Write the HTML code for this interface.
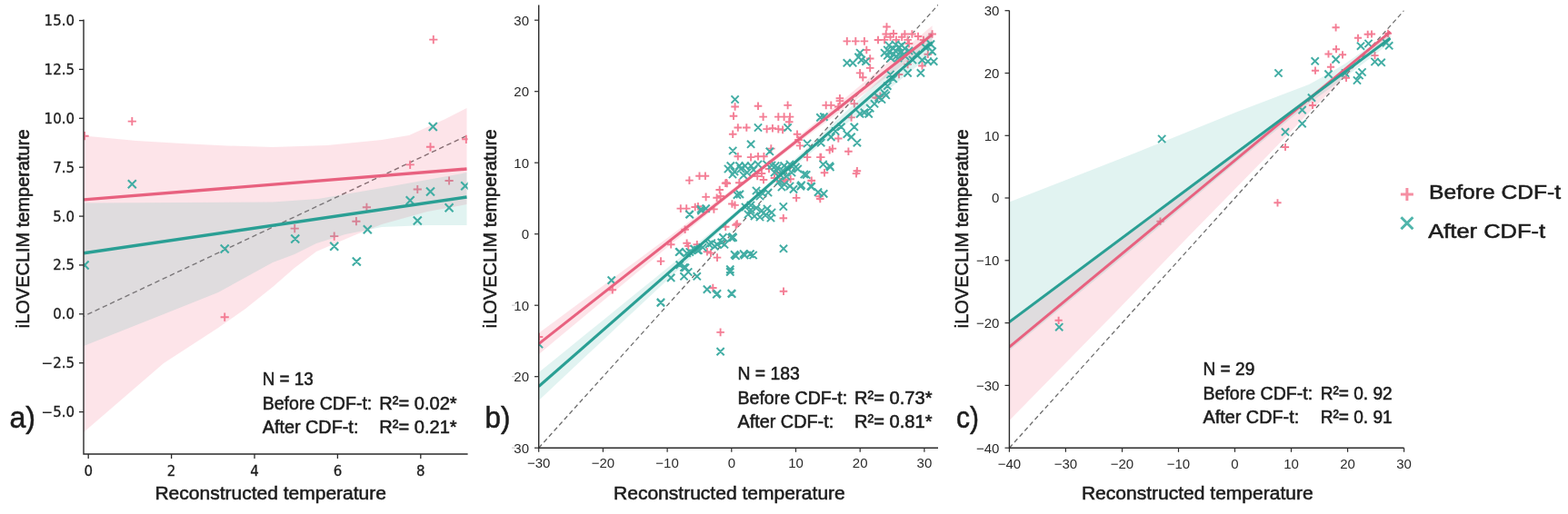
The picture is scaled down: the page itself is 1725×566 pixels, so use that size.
<!DOCTYPE html>
<html><head><meta charset="utf-8"><title>Scatter plots</title>
<style>html,body{margin:0;padding:0;background:#fff;width:1725px;height:566px;overflow:hidden}svg{display:block}</style>
</head><body>
<svg width="1725" height="566" viewBox="0 0 1725 566" font-family="'Liberation Sans', Arial, sans-serif">
<rect width="1725" height="566" fill="#ffffff"/>
<defs>
<clipPath id="ca"><rect x="92" y="11.5" width="422.6" height="488.5"/></clipPath>
<clipPath id="cb"><rect x="592.7" y="-4.6" width="439.3" height="497.8"/></clipPath>
<clipPath id="cc"><rect x="1110.4" y="1.5" width="434.2" height="491.7"/></clipPath>
</defs>
<g clip-path="url(#ca)">
<line x1="88.1" y1="350.1" x2="522.2" y2="145.4" stroke="#6e6e6e" stroke-width="1.4" stroke-dasharray="5.5 3.6"/>
<path d="M88.5 149.7H97.7M93.1 145.1V154.3M140.7 133.6H149.9M145.3 129V138.2M242.6 349.2H251.8M247.2 344.6V353.8M319.6 251.6H328.8M324.2 247V256.2M363.1 260.1H372.3M367.7 255.5V264.7M387.3 243.7H396.5M391.9 239.1V248.3M398.8 228.3H408M403.4 223.7V232.9M446.6 181.4H455.8M451.2 176.8V186M454.7 208.5H463.9M459.3 203.9V213.1M468.9 161.8H478.1M473.5 157.2V166.4M472.2 43.6H481.4M476.8 39V48.2M489.5 199H498.7M494.1 194.4V203.6M508.2 153.3H517.4M512.8 148.7V157.9" stroke="#f47e95" stroke-width="1.9" fill="none" />
<polygon points="92,149.5 150,155 200,158 250,160.5 300,162 360,160 420,154 450,149 470,140 490,131 513.5,119 513.5,225 470,233 420,247 390,259 348,277 324,295 300,316 270,340 240,361 180,400 92,476" fill="#f77189" fill-opacity="0.19" clip-path="url(#ca)"/>
<path d="M88.6 287.4L97.6 296.4M88.6 296.4L97.6 287.4M140.8 198.3L149.8 207.3M140.8 207.3L149.8 198.3M242.7 269.6L251.7 278.6M242.7 278.6L251.7 269.6M320.2 258.6L329.2 267.6M320.2 267.6L329.2 258.6M363.2 266.7L372.2 275.7M363.2 275.7L372.2 266.7M387.8 283.5L396.8 292.5M387.8 292.5L396.8 283.5M399.8 248.2L408.8 257.2M399.8 257.2L408.8 248.2M446.7 216.3L455.7 225.3M446.7 225.3L455.7 216.3M454.8 238.4L463.8 247.4M454.8 247.4L463.8 238.4M469 206.6L478 215.6M469 215.6L478 206.6M471.8 135.1L480.8 144.1M471.8 144.1L480.8 135.1M489.6 224.2L498.6 233.2M489.6 233.2L498.6 224.2M507.2 200.2L516.2 209.2M507.2 209.2L516.2 200.2" stroke="#42ada4" stroke-width="2.1" fill="none" />
<polygon points="92,223.5 300,222.5 350,219 420,207 470,198 513.5,190 513.5,248 470,248 420,250 380,258 348,268 324,280 300,289 240,322 180,346 92,381" fill="#36ada4" fill-opacity="0.15" clip-path="url(#ca)"/>
<line x1="92" y1="219.9" x2="513.5" y2="186" stroke="#e8617f" stroke-width="3.4" />
<line x1="92" y1="278.8" x2="513.5" y2="217" stroke="#2a9f94" stroke-width="3.4" />
</g>
<g clip-path="url(#cb)">
<line x1="592.7" y1="493.2" x2="1034.6" y2="2.6" stroke="#6e6e6e" stroke-width="1.3" stroke-dasharray="5 3.4"/>
<path d="M588.7 371H597.3M593 366.7V375.3M669.5 319.2H678.1M673.8 314.9V323.5M722.7 287.6H731.3M727 283.3V291.9M733.9 269.3H742.5M738.2 265V273.6M751.3 267.7H759.9M755.6 263.4V272M752.9 270.9H761.5M757.2 266.6V275.2M762.5 269.3H771.1M766.8 265V273.6M773.6 277.3H782.2M777.9 273V281.6M784.7 283.6H793.3M789 279.3V287.9M780 317H788.6M784.3 312.7V321.3M788.3 365.9H796.9M792.6 361.6V370.2M857.7 320.7H866.3M862 316.4V325M754.1 198.6H762.7M758.4 194.3V202.9M765.2 193.8H773.8M769.5 189.5V198.1M771.6 193.8H780.2M775.9 189.5V198.1M772.3 216.9H780.9M776.6 212.6V221.2M787.4 209H796M791.7 204.7V213.3M784.3 217.7H792.9M788.6 213.4V222M793.8 201.8H802.4M798.1 197.5V206.1M744.5 229.6H753.1M748.8 225.3V233.9M750.9 229.6H759.5M755.2 225.3V233.9M760.4 228H769M764.7 223.7V232.3M763.6 227.2H772.2M767.9 222.9V231.5M781.1 230.4H789.7M785.4 226.1V234.7M749.3 252.7H757.9M753.6 248.4V257M794.7 201.2H803.3M799 196.9V205.5M788.4 216H797M792.7 211.7V220.3M801.1 224.5H809.7M805.4 220.2V228.8M805.3 247.8H813.9M809.6 243.5V252.1M777.7 278.6H786.3M782 274.3V282.9M804.3 117.5H812.9M808.6 113.2V121.8M829.7 116.7H838.3M834 112.4V121M862.3 115.9H870.9M866.6 111.6V120.2M802.7 127.8H811.3M807 123.5V132.1M835.3 128.6H843.9M839.6 124.3V132.9M852 128.6H860.6M856.3 124.3V132.9M858.3 128.6H866.9M862.6 124.3V132.9M864.7 128.6H873.3M869 124.3V132.9M863.9 134.2H872.5M868.2 129.9V138.5M807.5 140.5H816.1M811.8 136.2V144.8M817 140.5H825.6M821.3 136.2V144.8M839.3 142.1H847.9M843.6 137.8V146.4M845.6 141.3H854.2M849.9 137V145.6M852 142.1H860.6M856.3 137.8V146.4M856.8 142.9H865.4M861.1 138.6V147.2M801.9 147.7H810.5M806.2 143.4V152M872.7 147.7H881.3M877 143.4V152M874.2 154H882.8M878.5 149.7V158.3M875.8 160.4H884.4M880.1 156.1V164.7M844 163.6H852.6M848.3 159.3V167.9M807.5 172.3H816.1M811.8 168V176.6M821.8 173.1H830.4M826.1 168.8V177.4M829.7 172.3H838.3M834 168V176.6M836.1 172.3H844.7M840.4 168V176.6M883.8 173.1H892.4M888.1 168.8V177.4M898.1 173.1H906.7M902.4 168.8V177.4M904.4 115.9H913M908.7 111.6V120.2M910 115.9H918.6M914.3 111.6V120.2M919.6 111.1H928.2M923.9 106.8V115.4M918 117.5H926.6M922.3 113.2V121.8M935.5 114.3H944.1M939.8 110V118.6M960.9 108H969.5M965.2 103.7V112.3M932.3 129.4H940.9M936.6 125.1V133.7M918 152.5H926.6M922.3 148.2V156.8M908.4 165.2H917M912.7 160.9V169.5M911.6 163.6H920.2M915.9 159.3V167.9M929.1 166.8H937.7M933.4 162.5V171.1M898.9 173.1H907.5M903.2 168.8V177.4M938.6 188.2H947.2M942.9 183.9V192.5M828.9 194H837.5M833.2 189.7V198.3M833.7 191H842.3M838 186.7V195.3M795.5 202H804.1M799.8 197.7V206.3M809 201.2H817.6M813.3 196.9V205.5M804.2 225.9H812.8M808.5 221.6V230.2M888.5 198.8H897.1M892.8 194.5V203.1M871.8 217.9H880.4M876.1 213.6V222.2M897.2 216.3H905.8M901.5 212V220.6M857.5 240.2H866.1M861.8 235.9V244.5M806.6 246.5H815.2M810.9 242.2V250.8M793.9 249.7H802.5M798.2 245.4V254M865.4 197.3H874M869.7 193V201.6M857.7 199H866.3M862 194.7V203.3M902.7 190.3H911.3M907 186V194.6M937.7 191.1H946.3M942 186.8V195.4M888.4 199H897M892.7 194.7V203.3M898 219H906.6M902.3 214.7V223.3M927.5 45.4H936.1M931.8 41.1V49.7M937 45.4H945.6M941.3 41.1V49.7M946.6 45.4H955.2M950.9 41.1V49.7M949 55H957.6M953.3 50.7V59.3M952.9 64.5H961.5M957.2 60.2V68.8M952.9 74.9H961.5M957.2 70.6V79.2M941.8 80.4H950.4M946.1 76.1V84.7M945 85.2H953.6M949.3 80.9V89.5M971.2 29.5H979.8M975.5 25.2V33.8M970.4 37.5H979M974.7 33.2V41.8M968.8 43.9H977.4M973.1 39.6V48.2M975.2 40.7H983.8M979.5 36.4V45M981.6 43.9H990.2M985.9 39.6V48.2M987.9 40.7H996.5M992.2 36.4V45M991.1 37.5H999.7M995.4 33.2V41.8M999.1 37.5H1007.7M1003.4 33.2V41.8M994.3 43.9H1002.9M998.6 39.6V48.2M984.7 82H993.3M989 77.7V86.3M994.3 70.9H1002.9M998.6 66.6V75.2M1010.2 72.5H1018.8M1014.5 68.2V76.8M1016.5 59.8H1025.1M1020.8 55.5V64.1M1021.3 37.5H1029.9M1025.6 33.2V41.8M919.6 108.2H928.2M923.9 103.9V112.5M959.3 107.5H967.9M963.6 103.2V111.8M964.1 105.9H972.7M968.4 101.6V110.2M1005.7 40H1014.3M1010 35.7V44.3M1011.7 44H1020.3M1016 39.7V48.3M978.7 37H987.3M983 32.7V41.3M961.7 44H970.3M966 39.7V48.3M995.7 48H1004.3M1000 43.7V52.3M847.7 196H856.3M852 191.7V200.3M853.7 200H862.3M858 195.7V204.3M859.7 198H868.3M864 193.7V202.3M850.7 190H859.3M855 185.7V194.3M841.7 186H850.3M846 181.7V190.3M835.7 198H844.3M840 193.7V202.3" stroke="#f47e95" stroke-width="1.9" fill="none" />
<polygon points="592.7,366.8 610.7,353.5 628.8,340.1 646.8,326.8 664.9,313.4 682.9,300.1 700.9,286.7 719,273.3 737,259.9 755,246.4 773.1,232.9 791.1,219.3 809.1,205.6 827.2,191.6 845.2,177.3 863.3,162.7 881.3,148 899.3,133.1 917.4,118.2 935.4,103.3 953.4,88.3 971.5,73.3 989.5,58.3 1007.6,43.3 1025.6,28.3 1025.6,47.7 1007.6,61.1 989.5,74.4 971.5,87.8 953.4,101.2 935.4,114.6 917.4,128 899.3,141.5 881.3,155 863.3,168.7 845.2,182.5 827.2,196.6 809.1,210.9 791.1,225.6 773.1,240.3 755,255.2 737,270.1 719,285.1 700.9,300.1 682.9,315.1 664.9,330.1 646.8,345.1 628.8,360.1 610.7,375.1 592.7,390.2" fill="#f77189" fill-opacity="0.19" clip-path="url(#cb)"/>
<path d="M588.9 374.9L597.1 383.1M588.9 383.1L597.1 374.9M668.6 304.5L676.8 312.7M668.6 312.7L676.8 304.5M722.8 329.3L731 337.5M722.8 337.5L731 329.3M788.5 383L796.7 391.2M788.5 391.2L796.7 383M784.2 320.1L792.4 328.3M784.2 328.3L792.4 320.1M801.2 319.4L809.4 327.6M801.2 327.6L809.4 319.4M743.6 273.2L751.8 281.4M743.6 281.4L751.8 273.2M751.5 274.7L759.7 282.9M751.5 282.9L759.7 274.7M759.5 270L767.7 278.2M759.5 278.2L767.7 270M764.3 271.6L772.5 279.8M764.3 279.8L772.5 271.6M769 268.4L777.2 276.6M769 276.6L777.2 268.4M778.6 263.6L786.8 271.8M778.6 271.8L786.8 263.6M784.9 265.2L793.1 273.4M784.9 273.4L793.1 265.2M791.3 257.3L799.5 265.5M791.3 265.5L799.5 257.3M792.9 265.2L801.1 273.4M792.9 273.4L801.1 265.2M800.9 257.3L809.1 265.5M800.9 265.5L809.1 257.3M804 276.3L812.2 284.5M804 284.5L812.2 276.3M743.6 287.5L751.8 295.7M743.6 295.7L751.8 287.5M749.9 290.6L758.1 298.8M749.9 298.8L758.1 290.6M753.1 295.4L761.3 303.6M753.1 303.6L761.3 295.4M748.4 300.2L756.6 308.4M748.4 308.4L756.6 300.2M762.7 300.2L770.9 308.4M762.7 308.4L770.9 300.2M734.1 301.8L742.3 310M734.1 310L742.3 301.8M799.2 295.4L807.4 303.6M799.2 303.6L807.4 295.4M773.8 314.5L782 322.7M773.8 322.7L782 314.5M784.9 319.3L793.1 327.5M784.9 327.5L793.1 319.3M800.8 319.3L809 327.5M800.8 327.5L809 319.3M722.9 328.8L731.1 337M722.9 337L731.1 328.8M754.7 232.1L762.9 240.3M754.7 240.3L762.9 232.1M767.4 227.9L775.6 236.1M767.4 236.1L775.6 227.9M809.8 209.8L818 218M809.8 218L818 209.8M743 273.4L751.2 281.6M743 281.6L751.2 273.4M754.7 273.4L762.9 281.6M754.7 281.6L762.9 273.4M763.1 271.3L771.3 279.5M763.1 279.5L771.3 271.3M775.9 264.9L784.1 273.1M775.9 273.1L784.1 264.9M782.2 267.1L790.4 275.3M782.2 275.3L790.4 267.1M789.6 262.8L797.8 271M789.6 271L797.8 262.8M802.4 257.5L810.6 265.7M802.4 265.7L810.6 257.5M805.5 277.7L813.7 285.9M805.5 285.9L813.7 277.7M814 275.5L822.2 283.7M814 283.7L822.2 275.5M821.4 275.5L829.6 283.7M821.4 283.7L829.6 275.5M748.3 290.4L756.5 298.6M748.3 298.6L756.5 290.4M799.2 292.5L807.4 300.7M799.2 300.7L807.4 292.5M754.3 231.9L762.5 240.1M754.3 240.1L762.5 231.9M767 226.3L775.2 234.5M767 234.5L775.2 226.3M772.5 225.5L780.7 233.7M772.5 233.7L780.7 225.5M800.7 257.8L808.9 266M800.7 266L808.9 257.8M805.4 277.7L813.6 285.9M805.4 285.9L813.6 277.7M815 276.9L823.2 285.1M815 285.1L823.2 276.9M824.5 276.9L832.7 285.1M824.5 285.1L832.7 276.9M799.1 295.2L807.3 303.4M799.1 303.4L807.3 295.2M800.7 319L808.9 327.2M800.7 327.2L808.9 319M857.9 269.7L866.1 277.9M857.9 277.9L866.1 269.7M804.5 105.4L812.7 113.6M804.5 113.6L812.7 105.4M822 154.7L830.2 162.9M822 162.9L830.2 154.7M802.1 161.9L810.3 170.1M802.1 170.1L810.3 161.9M829.9 136.4L838.1 144.6M829.9 144.6L838.1 136.4M862.5 136.4L870.7 144.6M862.5 144.6L870.7 136.4M898.3 125.3L906.5 133.5M898.3 133.5L906.5 125.3M884 153.9L892.2 162.1M884 162.1L892.2 153.9M842.7 162.7L850.9 170.9M842.7 170.9L850.9 162.7M799.7 178.5L807.9 186.7M799.7 186.7L807.9 178.5M809.3 178.5L817.5 186.7M809.3 186.7L817.5 178.5M815.6 178.5L823.8 186.7M815.6 186.7L823.8 178.5M822 178.5L830.2 186.7M822 186.7L830.2 178.5M829.9 176.9L838.1 185.1M829.9 185.1L838.1 176.9M839.5 176.9L847.7 185.1M839.5 185.1L847.7 176.9M849 178.5L857.2 186.7M849 186.7L857.2 178.5M858.5 178.5L866.7 186.7M858.5 186.7L866.7 178.5M864.9 176.9L873.1 185.1M864.9 185.1L873.1 176.9M871.3 179.9L879.5 188.1M871.3 188.1L879.5 179.9M901.5 176.9L909.7 185.1M901.5 185.1L909.7 176.9M970.6 100.7L978.8 108.9M970.6 108.9L978.8 100.7M965.9 105.4L974.1 113.6M965.9 113.6L974.1 105.4M957.9 110.2L966.1 118.4M957.9 118.4L966.1 110.2M953.1 115L961.3 123.2M953.1 123.2L961.3 115M946.8 119.8L955 128M946.8 128L955 119.8M942 121.3L950.2 129.5M942 129.5L950.2 121.3M951.6 121.3L959.8 129.5M951.6 129.5L959.8 121.3M935.7 135.7L943.9 143.9M935.7 143.9L943.9 135.7M921.3 135.7L929.5 143.9M921.3 143.9L929.5 135.7M915 140.4L923.2 148.6M915 148.6L923.2 140.4M927.7 143.6L935.9 151.8M927.7 151.8L935.9 143.6M932.5 146.8L940.7 155M932.5 155L940.7 146.8M938.8 153.1L947 161.3M938.8 161.3L947 153.1M910.2 146.8L918.4 155M910.2 155L918.4 146.8M899.1 153.1L907.3 161.3M899.1 161.3L907.3 153.1M902.3 124.5L910.5 132.7M902.3 132.7L910.5 124.5M908.6 178.6L916.8 186.8M908.6 186.8L916.8 178.6M796.9 181.9L805.1 190.1M796.9 190.1L805.1 181.9M803.9 184.9L812.1 193.1M803.9 193.1L812.1 184.9M810.9 181.9L819.1 190.1M810.9 190.1L819.1 181.9M817.9 185.9L826.1 194.1M817.9 194.1L826.1 185.9M824.9 182.9L833.1 191.1M824.9 191.1L833.1 182.9M801.9 187.9L810.1 196.1M801.9 196.1L810.1 187.9M813.9 188.9L822.1 197.1M813.9 197.1L822.1 188.9M844.9 177.9L853.1 186.1M844.9 186.1L853.1 177.9M850.9 180.9L859.1 189.1M850.9 189.1L859.1 180.9M856.9 183.9L865.1 192.1M856.9 192.1L865.1 183.9M862.9 181.9L871.1 190.1M862.9 190.1L871.1 181.9M866.9 185.9L875.1 194.1M866.9 194.1L875.1 185.9M847.9 185.9L856.1 194.1M847.9 194.1L856.1 185.9M853.9 187.9L862.1 196.1M853.9 196.1L862.1 187.9M860.9 189.9L869.1 198.1M860.9 198.1L869.1 189.9M852.9 195.9L861.1 204.1M852.9 204.1L861.1 195.9M858.9 198.9L867.1 207.1M858.9 207.1L867.1 198.9M864.9 200.9L873.1 209.1M864.9 209.1L873.1 200.9M855.9 201.9L864.1 210.1M855.9 210.1L864.1 201.9M827.9 205.9L836.1 214.1M827.9 214.1L836.1 205.9M834.9 208.9L843.1 217.1M834.9 217.1L843.1 208.9M840.9 207.9L849.1 216.1M840.9 216.1L849.1 207.9M831.9 211.9L840.1 220.1M831.9 220.1L840.1 211.9M815.9 223.9L824.1 232.1M815.9 232.1L824.1 223.9M821.9 226.9L830.1 235.1M821.9 235.1L830.1 226.9M827.9 224.9L836.1 233.1M827.9 233.1L836.1 224.9M833.9 227.9L842.1 236.1M833.9 236.1L842.1 227.9M839.9 225.9L848.1 234.1M839.9 234.1L848.1 225.9M844.9 229.9L853.1 238.1M844.9 238.1L853.1 229.9M818.9 231.9L827.1 240.1M818.9 240.1L827.1 231.9M825.9 233.9L834.1 242.1M825.9 242.1L834.1 233.9M831.9 234.9L840.1 243.1M831.9 243.1L840.1 234.9M837.9 232.9L846.1 241.1M837.9 241.1L846.1 232.9M843.9 235.9L852.1 244.1M843.9 244.1L852.1 235.9M821.9 221.9L830.1 230.1M821.9 230.1L830.1 221.9M873.6 181.9L881.8 190.1M873.6 190.1L881.8 181.9M883.1 188.4L891.3 196.6M883.1 196.6L891.3 188.4M876.7 201.1L884.9 209.3M876.7 209.3L884.9 201.1M868.9 204.3L877.1 212.5M868.9 212.5L877.1 204.3M887.9 201.1L896.1 209.3M887.9 209.3L896.1 201.1M895.9 207.5L904.1 215.7M895.9 215.7L904.1 207.5M857.7 223.4L865.9 231.6M857.7 231.6L865.9 223.4M806.8 210.6L815 218.8M806.8 218.8L815 210.6M802 256.8L810.2 265M802 265L810.2 256.8M909.3 179.9L917.5 188.1M909.3 188.1L917.5 179.9M880.7 187.9L888.9 196.1M880.7 196.1L888.9 187.9M877.5 199.7L885.7 207.9M877.5 207.9L885.7 199.7M888.6 201.3L896.8 209.5M888.6 209.5L896.8 201.3M902.1 209.3L910.3 217.5M902.1 217.5L910.3 209.3M927.7 65.2L935.9 73.4M927.7 73.4L935.9 65.2M934.1 65.2L942.3 73.4M934.1 73.4L942.3 65.2M940.4 58.8L948.6 67M940.4 67L948.6 58.8M943.6 62L951.8 70.2M943.6 70.2L951.8 62M948.4 63.6L956.6 71.8M948.4 71.8L956.6 63.6M942 54.1L950.2 62.3M942 62.3L950.2 54.1M972.2 50.9L980.4 59.1M972.2 59.1L980.4 50.9M978.6 49.3L986.8 57.5M978.6 57.5L986.8 49.3M984.9 47.7L993.1 55.9M984.9 55.9L993.1 47.7M991.3 49.3L999.5 57.5M991.3 57.5L999.5 49.3M972.2 57.2L980.4 65.4M972.2 65.4L980.4 57.2M978.6 55.7L986.8 63.9M978.6 63.9L986.8 55.7M986.5 54.1L994.7 62.3M986.5 62.3L994.7 54.1M969 54.1L977.2 62.3M969 62.3L977.2 54.1M1013.6 47.7L1021.8 55.9M1013.6 55.9L1021.8 47.7M1019.9 44.5L1028.1 52.7M1019.9 52.7L1028.1 44.5M1021.5 52.5L1029.7 60.7M1021.5 60.7L1029.7 52.5M1010.4 62L1018.6 70.2M1010.4 70.2L1018.6 62M1016.7 63.6L1024.9 71.8M1016.7 71.8L1024.9 63.6M1023.1 63.6L1031.3 71.8M1023.1 71.8L1031.3 63.6M994.5 76.3L1002.7 84.5M994.5 84.5L1002.7 76.3M1008.8 76.3L1017 84.5M1008.8 84.5L1017 76.3M975.4 77.9L983.6 86.1M975.4 86.1L983.6 77.9M978.6 82.7L986.8 90.9M978.6 90.9L986.8 82.7M972.2 90.6L980.4 98.8M972.2 98.8L980.4 90.6M969 98.6L977.2 106.8M969 106.8L977.2 98.6M962.7 103.4L970.9 111.6M962.7 111.6L970.9 103.4M981.9 57.9L990.1 66.1M981.9 66.1L990.1 57.9M989.9 55.9L998.1 64.1M989.9 64.1L998.1 55.9M995.9 51.9L1004.1 60.1M995.9 60.1L1004.1 51.9M1003.9 55.9L1012.1 64.1M1003.9 64.1L1012.1 55.9M999.9 61.9L1008.1 70.1M999.9 70.1L1008.1 61.9M973.9 45.9L982.1 54.1M973.9 54.1L982.1 45.9M980.9 44.9L989.1 53.1M980.9 53.1L989.1 44.9M987.9 45.9L996.1 54.1M987.9 54.1L996.1 45.9M973.9 52.9L982.1 61.1M973.9 61.1L982.1 52.9M980.9 51.9L989.1 60.1M980.9 60.1L989.1 51.9M987.9 52.9L996.1 61.1M987.9 61.1L996.1 52.9M975.9 59.9L984.1 68.1M975.9 68.1L984.1 59.9M983.9 59.9L992.1 68.1M983.9 68.1L992.1 59.9M991.9 57.9L1000.1 66.1M991.9 66.1L1000.1 57.9" stroke="#42ada4" stroke-width="2.0" fill="none" />
<polygon points="592.7,410.1 610.7,395.5 628.8,380.8 646.8,366.1 664.9,351.5 682.9,336.8 700.9,322.1 719,307.5 737,292.7 755,278 773.1,263.2 791.1,248.3 809.1,233.2 827.2,217.8 845.2,201.8 863.3,185.4 881.3,168.8 899.3,152 917.4,135.2 935.4,118.3 953.4,101.5 971.5,84.6 989.5,67.7 1007.6,50.8 1025.6,33.8 1025.6,59.4 1007.6,74 989.5,88.7 971.5,103.4 953.4,118 935.4,132.7 917.4,147.5 899.3,162.2 881.3,177 863.3,192 845.2,207.2 827.2,222.8 809.1,238.9 791.1,255.4 773.1,272 755,288.8 737,305.7 719,322.5 700.9,339.4 682.9,356.3 664.9,373.2 646.8,390.1 628.8,407 610.7,424 592.7,440.9" fill="#36ada4" fill-opacity="0.15" clip-path="url(#cb)"/>
<line x1="592.7" y1="378.5" x2="1025.6" y2="38" stroke="#e8617f" stroke-width="3.0" />
<line x1="592.7" y1="425.5" x2="1025.6" y2="46.6" stroke="#2a9f94" stroke-width="3.0" />
</g>
<g clip-path="url(#cc)">
<line x1="1110.4" y1="493.2" x2="1544.6" y2="11.7" stroke="#6e6e6e" stroke-width="1.3" stroke-dasharray="5 3.4"/>
<path d="M1465.5 30.3H1473.7M1469.6 26.2V34.4M1489.9 41.8H1498.1M1494 37.7V45.9M1500.6 37.8H1508.8M1504.7 33.7V41.9M1504.9 37.5H1513.1M1509 33.4V41.6M1522.9 36.8H1531.1M1527 32.7V40.9M1457.4 59.5H1465.6M1461.5 55.4V63.6M1465.9 54.2H1474.1M1470 50.1V58.3M1472.9 60.3H1481.1M1477 56.2V64.4M1442.9 77.7H1451.1M1447 73.6V81.8M1459.9 73.8H1468.1M1464 69.7V77.9M1508.4 61.1H1516.6M1512.5 57V65.2M1476.9 85.8H1485.1M1481 81.7V89.9M1439.9 116H1448.1M1444 111.9V120.1M1409.9 162H1418.1M1414 157.9V166.1M1401.4 223.3H1409.6M1405.5 219.2V227.4M1272.4 243.7H1280.6M1276.5 239.6V247.8M1160.5 352.8H1168.7M1164.6 348.7V356.9" stroke="#f47e95" stroke-width="1.9" fill="none" />
<polygon points="1110.4,354 1250,250 1360,168 1440,106 1480,74 1529.5,34 1529.5,42 1500,64 1470,94 1440,124 1391,175 1305,263 1228,343 1110.4,463" fill="#f77189" fill-opacity="0.19" clip-path="url(#cc)"/>
<path d="M1402.4 76.4L1410.6 84.6M1402.4 84.6L1410.6 76.4M1442.6 63.2L1450.8 71.4M1442.6 71.4L1450.8 63.2M1465.5 61.3L1473.7 69.5M1465.5 69.5L1473.7 61.3M1492.9 46.6L1501.1 54.8M1492.9 54.8L1501.1 46.6M1501.4 43.9L1509.6 52.1M1501.4 52.1L1509.6 43.9M1520.9 43.1L1529.1 51.3M1520.9 51.3L1529.1 43.1M1524.1 46.2L1532.3 54.4M1524.1 54.4L1532.3 46.2M1457.4 77.5L1465.6 85.7M1457.4 85.7L1465.6 77.5M1475.9 76.4L1484.1 84.6M1475.9 84.6L1484.1 76.4M1491.4 78.9L1499.6 87.1M1491.4 87.1L1499.6 78.9M1494.4 75.4L1502.6 83.6M1494.4 83.6L1502.6 75.4M1508.4 63.9L1516.6 72.1M1508.4 72.1L1516.6 63.9M1515.6 64.7L1523.8 72.9M1515.6 72.9L1523.8 64.7M1488.9 84.4L1497.1 92.6M1488.9 92.6L1497.1 84.4M1438.9 103.5L1447.1 111.7M1438.9 111.7L1447.1 103.5M1428.5 117L1436.7 125.2M1428.5 125.2L1436.7 117M1428.5 132.1L1436.7 140.3M1428.5 140.3L1436.7 132.1M1409.9 141.2L1418.1 149.4M1409.9 149.4L1418.1 141.2M1274.1 148.9L1282.3 157.1M1274.1 157.1L1282.3 148.9M1161.1 356.1L1169.3 364.3M1161.1 364.3L1169.3 356.1" stroke="#42ada4" stroke-width="2.0" fill="none" />
<polygon points="1110.4,222.4 1250,168 1360,123.6 1440,93 1460,82 1480,70 1500,56 1529.5,36 1529.5,47 1480,85 1440,114 1360,179 1250,271 1110.4,386" fill="#36ada4" fill-opacity="0.15" clip-path="url(#cc)"/>
<line x1="1110.4" y1="382" x2="1529.5" y2="35" stroke="#e8617f" stroke-width="3.0" />
<line x1="1110.4" y1="354.5" x2="1529.5" y2="42" stroke="#2a9f94" stroke-width="3.0" />
</g>
<path d="M92 21.5V500H514.6" stroke="#2b2b2b" stroke-width="1.4" fill="none"/>
<line x1="87" y1="453.6" x2="92" y2="453.6" stroke="#2b2b2b" stroke-width="1.3" />
<text x="82" y="459.1" font-size="15" text-anchor="end" fill="#1c1c1c" font-family="DejaVu Sans, sans-serif" stroke="#1c1c1c" stroke-width="0.3">−5.0</text>
<line x1="87" y1="399.7" x2="92" y2="399.7" stroke="#2b2b2b" stroke-width="1.3" />
<text x="82" y="405.2" font-size="15" text-anchor="end" fill="#1c1c1c" font-family="DejaVu Sans, sans-serif" stroke="#1c1c1c" stroke-width="0.3">−2.5</text>
<line x1="87" y1="345.8" x2="92" y2="345.8" stroke="#2b2b2b" stroke-width="1.3" />
<text x="82" y="351.3" font-size="15" text-anchor="end" fill="#1c1c1c" font-family="DejaVu Sans, sans-serif" stroke="#1c1c1c" stroke-width="0.3">0.0</text>
<line x1="87" y1="291.9" x2="92" y2="291.9" stroke="#2b2b2b" stroke-width="1.3" />
<text x="82" y="297.4" font-size="15" text-anchor="end" fill="#1c1c1c" font-family="DejaVu Sans, sans-serif" stroke="#1c1c1c" stroke-width="0.3">2.5</text>
<line x1="87" y1="238.1" x2="92" y2="238.1" stroke="#2b2b2b" stroke-width="1.3" />
<text x="82" y="243.6" font-size="15" text-anchor="end" fill="#1c1c1c" font-family="DejaVu Sans, sans-serif" stroke="#1c1c1c" stroke-width="0.3">5.0</text>
<line x1="87" y1="184.2" x2="92" y2="184.2" stroke="#2b2b2b" stroke-width="1.3" />
<text x="82" y="189.7" font-size="15" text-anchor="end" fill="#1c1c1c" font-family="DejaVu Sans, sans-serif" stroke="#1c1c1c" stroke-width="0.3">7.5</text>
<line x1="87" y1="130.3" x2="92" y2="130.3" stroke="#2b2b2b" stroke-width="1.3" />
<text x="82" y="135.8" font-size="15" text-anchor="end" fill="#1c1c1c" font-family="DejaVu Sans, sans-serif" stroke="#1c1c1c" stroke-width="0.3">10.0</text>
<line x1="87" y1="76.4" x2="92" y2="76.4" stroke="#2b2b2b" stroke-width="1.3" />
<text x="82" y="81.9" font-size="15" text-anchor="end" fill="#1c1c1c" font-family="DejaVu Sans, sans-serif" stroke="#1c1c1c" stroke-width="0.3">12.5</text>
<line x1="87" y1="22.6" x2="92" y2="22.6" stroke="#2b2b2b" stroke-width="1.3" />
<text x="82" y="28.1" font-size="15" text-anchor="end" fill="#1c1c1c" font-family="DejaVu Sans, sans-serif" stroke="#1c1c1c" stroke-width="0.3">15.0</text>
<line x1="97.2" y1="500" x2="97.2" y2="505" stroke="#2b2b2b" stroke-width="1.3" />
<text x="97.2" y="523.5" font-size="15" text-anchor="middle" fill="#1c1c1c" font-family="DejaVu Sans, sans-serif" stroke="#1c1c1c" stroke-width="0.3">0</text>
<line x1="188.6" y1="500" x2="188.6" y2="505" stroke="#2b2b2b" stroke-width="1.3" />
<text x="188.6" y="523.5" font-size="15" text-anchor="middle" fill="#1c1c1c" font-family="DejaVu Sans, sans-serif" stroke="#1c1c1c" stroke-width="0.3">2</text>
<line x1="280" y1="500" x2="280" y2="505" stroke="#2b2b2b" stroke-width="1.3" />
<text x="280" y="523.5" font-size="15" text-anchor="middle" fill="#1c1c1c" font-family="DejaVu Sans, sans-serif" stroke="#1c1c1c" stroke-width="0.3">4</text>
<line x1="371.4" y1="500" x2="371.4" y2="505" stroke="#2b2b2b" stroke-width="1.3" />
<text x="371.4" y="523.5" font-size="15" text-anchor="middle" fill="#1c1c1c" font-family="DejaVu Sans, sans-serif" stroke="#1c1c1c" stroke-width="0.3">6</text>
<line x1="462.8" y1="500" x2="462.8" y2="505" stroke="#2b2b2b" stroke-width="1.3" />
<text x="462.8" y="523.5" font-size="15" text-anchor="middle" fill="#1c1c1c" font-family="DejaVu Sans, sans-serif" stroke="#1c1c1c" stroke-width="0.3">8</text>
<path d="M592.7 5.4V493.2H1032" stroke="#2b2b2b" stroke-width="1.4" fill="none"/>
<line x1="588" y1="493.2" x2="592.7" y2="493.2" stroke="#2b2b2b" stroke-width="1.2" />
<text x="582" y="498.6" font-size="15" text-anchor="end" fill="#2a2a2a" >30</text>
<line x1="563" y1="493.2" x2="566.5" y2="493.2" stroke="#d4d4d4" stroke-width="1.5" />
<line x1="588" y1="414.7" x2="592.7" y2="414.7" stroke="#2b2b2b" stroke-width="1.2" />
<text x="582" y="420.1" font-size="15" text-anchor="end" fill="#2a2a2a" >20</text>
<line x1="563" y1="414.7" x2="566.5" y2="414.7" stroke="#d4d4d4" stroke-width="1.5" />
<line x1="588" y1="336.2" x2="592.7" y2="336.2" stroke="#2b2b2b" stroke-width="1.2" />
<text x="582" y="341.6" font-size="15" text-anchor="end" fill="#2a2a2a" >10</text>
<line x1="563" y1="336.2" x2="566.5" y2="336.2" stroke="#d4d4d4" stroke-width="1.5" />
<line x1="588" y1="257.7" x2="592.7" y2="257.7" stroke="#2b2b2b" stroke-width="1.2" />
<text x="582" y="263.1" font-size="15" text-anchor="end" fill="#2a2a2a" >0</text>
<line x1="588" y1="179.2" x2="592.7" y2="179.2" stroke="#2b2b2b" stroke-width="1.2" />
<text x="582" y="184.6" font-size="15" text-anchor="end" fill="#2a2a2a" >10</text>
<line x1="588" y1="100.7" x2="592.7" y2="100.7" stroke="#2b2b2b" stroke-width="1.2" />
<text x="582" y="106.1" font-size="15" text-anchor="end" fill="#2a2a2a" >20</text>
<line x1="588" y1="22.2" x2="592.7" y2="22.2" stroke="#2b2b2b" stroke-width="1.2" />
<text x="582" y="27.6" font-size="15" text-anchor="end" fill="#2a2a2a" >30</text>
<line x1="592.7" y1="493.2" x2="592.7" y2="497.8" stroke="#2b2b2b" stroke-width="1.2" />
<text x="592.7" y="515.2" font-size="15" text-anchor="middle" fill="#2a2a2a" >−30</text>
<line x1="663.4" y1="493.2" x2="663.4" y2="497.8" stroke="#2b2b2b" stroke-width="1.2" />
<text x="663.4" y="515.2" font-size="15" text-anchor="middle" fill="#2a2a2a" >−20</text>
<line x1="734.1" y1="493.2" x2="734.1" y2="497.8" stroke="#2b2b2b" stroke-width="1.2" />
<text x="734.1" y="515.2" font-size="15" text-anchor="middle" fill="#2a2a2a" >−10</text>
<line x1="804.8" y1="493.2" x2="804.8" y2="497.8" stroke="#2b2b2b" stroke-width="1.2" />
<text x="804.8" y="515.2" font-size="15" text-anchor="middle" fill="#2a2a2a" >0</text>
<line x1="875.5" y1="493.2" x2="875.5" y2="497.8" stroke="#2b2b2b" stroke-width="1.2" />
<text x="875.5" y="515.2" font-size="15" text-anchor="middle" fill="#2a2a2a" >10</text>
<line x1="946.2" y1="493.2" x2="946.2" y2="497.8" stroke="#2b2b2b" stroke-width="1.2" />
<text x="946.2" y="515.2" font-size="15" text-anchor="middle" fill="#2a2a2a" >20</text>
<line x1="1016.9" y1="493.2" x2="1016.9" y2="497.8" stroke="#2b2b2b" stroke-width="1.2" />
<text x="1016.9" y="515.2" font-size="15" text-anchor="middle" fill="#2a2a2a" >30</text>
<path d="M1110.4 11.5V493.2H1544.6" stroke="#2b2b2b" stroke-width="1.4" fill="none"/>
<line x1="1105.5" y1="493.2" x2="1110.4" y2="493.2" stroke="#2b2b2b" stroke-width="1.2" />
<text x="1099.4" y="498.6" font-size="15" text-anchor="end" fill="#2a2a2a" >−40</text>
<line x1="1105.5" y1="424.4" x2="1110.4" y2="424.4" stroke="#2b2b2b" stroke-width="1.2" />
<text x="1099.4" y="429.8" font-size="15" text-anchor="end" fill="#2a2a2a" >−30</text>
<line x1="1105.5" y1="355.6" x2="1110.4" y2="355.6" stroke="#2b2b2b" stroke-width="1.2" />
<text x="1099.4" y="361" font-size="15" text-anchor="end" fill="#2a2a2a" >−20</text>
<line x1="1105.5" y1="286.8" x2="1110.4" y2="286.8" stroke="#2b2b2b" stroke-width="1.2" />
<text x="1099.4" y="292.2" font-size="15" text-anchor="end" fill="#2a2a2a" >−10</text>
<line x1="1105.5" y1="218" x2="1110.4" y2="218" stroke="#2b2b2b" stroke-width="1.2" />
<text x="1099.4" y="223.4" font-size="15" text-anchor="end" fill="#2a2a2a" >0</text>
<line x1="1105.5" y1="149.3" x2="1110.4" y2="149.3" stroke="#2b2b2b" stroke-width="1.2" />
<text x="1099.4" y="154.7" font-size="15" text-anchor="end" fill="#2a2a2a" >10</text>
<line x1="1105.5" y1="80.5" x2="1110.4" y2="80.5" stroke="#2b2b2b" stroke-width="1.2" />
<text x="1099.4" y="85.9" font-size="15" text-anchor="end" fill="#2a2a2a" >20</text>
<line x1="1105.5" y1="11.7" x2="1110.4" y2="11.7" stroke="#2b2b2b" stroke-width="1.2" />
<text x="1099.4" y="17.1" font-size="15" text-anchor="end" fill="#2a2a2a" >30</text>
<line x1="1110.4" y1="493.2" x2="1110.4" y2="497.8" stroke="#2b2b2b" stroke-width="1.2" />
<text x="1110.4" y="515.8" font-size="15" text-anchor="middle" fill="#2a2a2a" >−40</text>
<line x1="1172.4" y1="493.2" x2="1172.4" y2="497.8" stroke="#2b2b2b" stroke-width="1.2" />
<text x="1172.4" y="515.8" font-size="15" text-anchor="middle" fill="#2a2a2a" >−30</text>
<line x1="1234.5" y1="493.2" x2="1234.5" y2="497.8" stroke="#2b2b2b" stroke-width="1.2" />
<text x="1234.5" y="515.8" font-size="15" text-anchor="middle" fill="#2a2a2a" >−20</text>
<line x1="1296.5" y1="493.2" x2="1296.5" y2="497.8" stroke="#2b2b2b" stroke-width="1.2" />
<text x="1296.5" y="515.8" font-size="15" text-anchor="middle" fill="#2a2a2a" >−10</text>
<line x1="1358.5" y1="493.2" x2="1358.5" y2="497.8" stroke="#2b2b2b" stroke-width="1.2" />
<text x="1358.5" y="515.8" font-size="15" text-anchor="middle" fill="#2a2a2a" >0</text>
<line x1="1420.5" y1="493.2" x2="1420.5" y2="497.8" stroke="#2b2b2b" stroke-width="1.2" />
<text x="1420.5" y="515.8" font-size="15" text-anchor="middle" fill="#2a2a2a" >10</text>
<line x1="1482.6" y1="493.2" x2="1482.6" y2="497.8" stroke="#2b2b2b" stroke-width="1.2" />
<text x="1482.6" y="515.8" font-size="15" text-anchor="middle" fill="#2a2a2a" >20</text>
<line x1="1544.6" y1="493.2" x2="1544.6" y2="497.8" stroke="#2b2b2b" stroke-width="1.2" />
<text x="1544.6" y="515.8" font-size="15" text-anchor="middle" fill="#2a2a2a" >30</text>
<text transform="translate(31.6 361.3) rotate(-90)" font-size="20.5" fill="#1c1c1c" stroke="#1c1c1c" stroke-width="0.55" textLength="218.8" lengthAdjust="spacingAndGlyphs">iLOVECLIM temperature</text>
<text transform="translate(546.0 361.3) rotate(-90)" font-size="20.5" fill="#1c1c1c" stroke="#1c1c1c" stroke-width="0.55" textLength="218.8" lengthAdjust="spacingAndGlyphs">iLOVECLIM temperature</text>
<text transform="translate(1064.6 361.3) rotate(-90)" font-size="20.5" fill="#1c1c1c" stroke="#1c1c1c" stroke-width="0.55" textLength="218.8" lengthAdjust="spacingAndGlyphs">iLOVECLIM temperature</text>
<text x="170.4" y="550" font-size="20.5" fill="#1c1c1c" stroke="#1c1c1c" stroke-width="0.55" textLength="254.6" lengthAdjust="spacingAndGlyphs">Reconstructed temperature</text>
<text x="675.0" y="550" font-size="20.5" fill="#1c1c1c" stroke="#1c1c1c" stroke-width="0.55" textLength="254.8" lengthAdjust="spacingAndGlyphs">Reconstructed temperature</text>
<text x="1189.9" y="550" font-size="20.5" fill="#1c1c1c" stroke="#1c1c1c" stroke-width="0.55" textLength="254.8" lengthAdjust="spacingAndGlyphs">Reconstructed temperature</text>
<text x="288.7" y="423.6" font-size="20" fill="#1c1c1c" stroke="#1c1c1c" stroke-width="0.55" textLength="56.0" lengthAdjust="spacingAndGlyphs">N = 13</text>
<text x="288.7" y="451.3" font-size="20" fill="#1c1c1c" stroke="#1c1c1c" stroke-width="0.55" textLength="120.6" lengthAdjust="spacingAndGlyphs">Before CDF-t:</text>
<text x="417.3" y="451.3" font-size="20" fill="#1c1c1c" stroke="#1c1c1c" stroke-width="0.55" textLength="85.4" lengthAdjust="spacingAndGlyphs">R²= 0.02*</text>
<text x="288.7" y="477.3" font-size="20" fill="#1c1c1c" stroke="#1c1c1c" stroke-width="0.55" textLength="105.7" lengthAdjust="spacingAndGlyphs">After CDF-t:</text>
<text x="417.3" y="477.3" font-size="20" fill="#1c1c1c" stroke="#1c1c1c" stroke-width="0.55" textLength="85.4" lengthAdjust="spacingAndGlyphs">R²= 0.21*</text>
<text x="811.5" y="417.7" font-size="20" fill="#1c1c1c" stroke="#1c1c1c" stroke-width="0.55" textLength="68.4" lengthAdjust="spacingAndGlyphs">N = 183</text>
<text x="811.5" y="445.4" font-size="20" fill="#1c1c1c" stroke="#1c1c1c" stroke-width="0.55" textLength="120.6" lengthAdjust="spacingAndGlyphs">Before CDF-t:</text>
<text x="940.1" y="445.4" font-size="20" fill="#1c1c1c" stroke="#1c1c1c" stroke-width="0.55" textLength="85.4" lengthAdjust="spacingAndGlyphs">R²= 0.73*</text>
<text x="811.5" y="471.4" font-size="20" fill="#1c1c1c" stroke="#1c1c1c" stroke-width="0.55" textLength="105.7" lengthAdjust="spacingAndGlyphs">After CDF-t:</text>
<text x="940.1" y="471.4" font-size="20" fill="#1c1c1c" stroke="#1c1c1c" stroke-width="0.55" textLength="85.4" lengthAdjust="spacingAndGlyphs">R²= 0.81*</text>
<text x="1323.5" y="412.7" font-size="20" fill="#1c1c1c" stroke="#1c1c1c" stroke-width="0.55" textLength="56.8" lengthAdjust="spacingAndGlyphs">N = 29</text>
<text x="1323.5" y="440.4" font-size="20" fill="#1c1c1c" stroke="#1c1c1c" stroke-width="0.55" textLength="120.6" lengthAdjust="spacingAndGlyphs">Before CDF-t:</text>
<text x="1452.7" y="440.4" font-size="20" fill="#1c1c1c" stroke="#1c1c1c" stroke-width="0.55" textLength="79.0" lengthAdjust="spacingAndGlyphs">R²= 0. 92</text>
<text x="1323.5" y="466.4" font-size="20" fill="#1c1c1c" stroke="#1c1c1c" stroke-width="0.55" textLength="105.7" lengthAdjust="spacingAndGlyphs">After CDF-t:</text>
<text x="1452.7" y="466.4" font-size="20" fill="#1c1c1c" stroke="#1c1c1c" stroke-width="0.55" textLength="79.0" lengthAdjust="spacingAndGlyphs">R²= 0. 91</text>
<text x="10.4" y="471.2" font-size="34" text-anchor="start" fill="#1c1c1c" stroke="#1c1c1c" stroke-width="0.55" textLength="28.6" lengthAdjust="spacingAndGlyphs">a)</text>
<text x="533.6" y="471.2" font-size="34" text-anchor="start" fill="#1c1c1c" stroke="#1c1c1c" stroke-width="0.55" textLength="27.9" lengthAdjust="spacingAndGlyphs">b)</text>
<text x="1052" y="471.2" font-size="34" text-anchor="start" fill="#1c1c1c" stroke="#1c1c1c" stroke-width="0.55" textLength="24.9" lengthAdjust="spacingAndGlyphs">c)</text>
<path d="M1540.9 214.1H1554.9M1547.9 207.1V221.1" stroke="#f58ea2" stroke-width="3" fill="none" />
<path d="M1541.4 239.2L1554.4 252.2M1541.4 252.2L1554.4 239.2" stroke="#4fb5ab" stroke-width="3" fill="none" />
<text x="1572.1" y="219.2" font-size="21.5" fill="#1c1c1c" stroke="#1c1c1c" stroke-width="0.55" textLength="145" lengthAdjust="spacingAndGlyphs">Before CDF-t</text>
<text x="1571.2" y="261.6" font-size="21.5" fill="#1c1c1c" stroke="#1c1c1c" stroke-width="0.55" textLength="129" lengthAdjust="spacingAndGlyphs">After CDF-t</text>
</svg>
</body></html>
